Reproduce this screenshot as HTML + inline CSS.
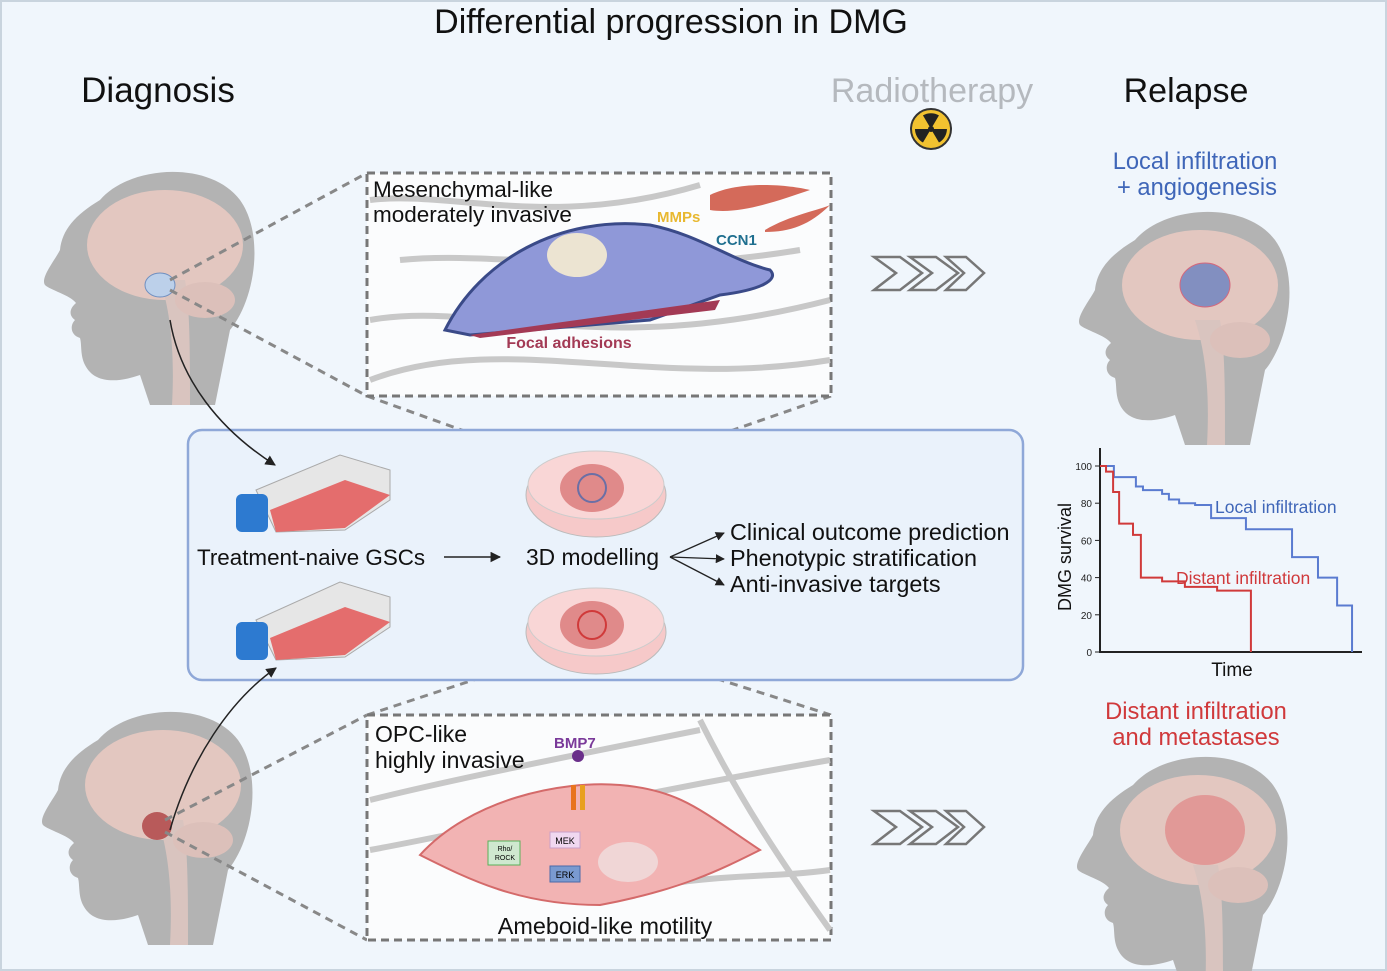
<!DOCTYPE html>
<html><head><meta charset="utf-8"><style>
html,body{margin:0;padding:0;background:#fff}
svg{display:block;font-family:"Liberation Sans",sans-serif}
</style></head><body>
<svg id="root" width="1387" height="971" viewBox="0 0 1387 971">
<defs>
<g id="head">
<path d="M60,40 C90,5 170,0 200,40 C225,75 215,140 190,170 L175,245 L110,245 L100,215 C80,222 55,225 45,205 C40,195 42,185 40,178 C30,175 30,165 35,160 C28,155 30,148 36,143 C30,135 10,130 5,125 C0,118 15,100 20,90 C22,70 35,55 60,40 Z" fill="#b3b3b3"/>
<ellipse cx="125" cy="85" rx="78" ry="55" fill="#e3c7c0"/>
<path d="M120,120 C130,150 135,190 132,245 L150,245 C150,190 150,150 145,120 Z" fill="#d9c4bf"/>
<ellipse cx="165" cy="140" rx="30" ry="18" fill="#dcc0ba"/>
</g>
<marker id="ah" viewBox="0 0 10 10" refX="9" refY="5" markerWidth="7" markerHeight="7" orient="auto"><path d="M0,0L10,5L0,10Z" fill="#222"/></marker>
</defs>
<rect x="1" y="1" width="1385" height="969" fill="#f0f6fc" stroke="#c9d4de" stroke-width="2"/>
<text x="671" y="33" font-size="34" text-anchor="middle" fill="#111">Differential progression in DMG</text>
<text x="158" y="102" font-size="35" text-anchor="middle" fill="#111">Diagnosis</text>
<text x="932" y="102" font-size="34" text-anchor="middle" fill="#b5b9be">Radiotherapy</text>
<text x="1186" y="102" font-size="34" text-anchor="middle" fill="#111">Relapse</text>
<g>
<circle cx="931" cy="129" r="20" fill="#f2c230" stroke="#333" stroke-width="2"/>
<circle cx="931" cy="129" r="3" fill="#222"/>
<path d="M931,129 L921,112 A20,20 0 0 1 941,112 Z M931,129 L951,129 A20,20 0 0 1 941,146 Z M931,129 L921,146 A20,20 0 0 1 911,129 Z" fill="#222" transform="scale(0.8) translate(232.7,32.2)"/>
</g>
<use href="#head" transform="translate(40,160)"/>
<ellipse cx="160" cy="285" rx="15" ry="12" fill="#bcd0ea" stroke="#6f8fc0"/>
<use href="#head" transform="translate(38,700)"/>
<ellipse cx="157" cy="826" rx="15" ry="14" fill="#b85a5a"/>
<use href="#head" transform="translate(1075,200)"/>
<ellipse cx="1205" cy="285" rx="25" ry="22" fill="#5a78c0" opacity="0.7" stroke="#d04060"/>
<use href="#head" transform="translate(1073,745)"/>
<ellipse cx="1205" cy="830" rx="40" ry="35" fill="#e08a8a" opacity="0.75"/>
<text x="1195" y="169" font-size="23.7" text-anchor="middle" fill="#3f66b8">Local infiltration</text>
<text x="1197" y="195" font-size="23.7" text-anchor="middle" fill="#3f66b8">+ angiogenesis</text>
<text x="1196" y="719" font-size="23.7" text-anchor="middle" fill="#d0393b">Distant infiltration</text>
<text x="1196" y="745" font-size="23.7" text-anchor="middle" fill="#d0393b">and metastases</text>
<g stroke="#888" stroke-width="3" stroke-dasharray="8,6" fill="none">
<line x1="170" y1="280" x2="367" y2="173"/><line x1="170" y1="290" x2="367" y2="396"/>
<line x1="367" y1="396" x2="595" y2="478"/><line x1="831" y1="396" x2="595" y2="478"/>
<line x1="165" y1="820" x2="367" y2="715"/><line x1="165" y1="832" x2="367" y2="940"/>
<line x1="367" y1="715" x2="595" y2="640"/><line x1="831" y1="715" x2="595" y2="640"/>
</g>
<g>
<rect x="367" y="173" width="464" height="223" fill="#fbfcfd" stroke="#777" stroke-width="3" stroke-dasharray="8,5"/>
<g stroke="#c8c8c8" stroke-width="6" fill="none">
<path d="M370,200 C450,190 550,230 700,185"/><path d="M370,320 C480,300 600,360 830,300"/><path d="M370,380 C500,330 650,390 830,360"/><path d="M400,260 C500,250 620,280 800,250"/>
</g>
<path d="M445,330 C480,260 560,215 650,225 C700,235 730,260 770,270 C780,280 760,290 720,295 L650,320 L470,335 Z" fill="#8f98d8" stroke="#3a4a88" stroke-width="3"/>
<path d="M470,335 L720,300 L715,310 L480,338 Z" fill="#a33a55"/>
<ellipse cx="577" cy="255" rx="30" ry="22" fill="#ece4d2"/>
<path d="M710,195 C740,180 790,185 810,190 C780,200 740,215 710,210 Z M765,230 C790,215 820,210 830,205 C810,225 790,232 765,232 Z" fill="#d46a5a"/>
<text x="373" y="197" font-size="22.5" fill="#111">Mesenchymal-like</text>
<text x="373" y="222" font-size="22.5" fill="#111">moderately invasive</text>
<text x="657" y="222" font-size="15" font-weight="bold" fill="#e8b830">MMPs</text>
<text x="716" y="245" font-size="15" font-weight="bold" fill="#1f6f8f">CCN1</text>
<text x="569" y="348" font-size="16" font-weight="bold" text-anchor="middle" fill="#a33a55">Focal adhesions</text>
</g>
<rect x="188" y="430" width="835" height="250" rx="14" fill="#eaf2fb" stroke="#8fa8d8" stroke-width="2.5"/>
<g>
<path d="M256,490 L340,455 L390,470 L390,500 L345,530 L276,532 Z" fill="#e6e6e6" stroke="#aaa"/>
<path d="M270,510 L345,480 L390,495 L345,528 L276,532 Z" fill="#e46d6d"/>
<rect x="236" y="494" width="32" height="38" rx="6" fill="#2d7ad0"/>
</g>
<g>
<path d="M256,620 L340,582 L390,597 L390,627 L345,657 L276,660 Z" fill="#e6e6e6" stroke="#aaa"/>
<path d="M270,638 L345,607 L390,622 L345,655 L276,660 Z" fill="#e46d6d"/>
<rect x="236" y="622" width="32" height="38" rx="6" fill="#2d7ad0"/>
</g>
<g>
<ellipse cx="596" cy="495" rx="70" ry="42" fill="#f6c9c9" stroke="#bbb"/>
<ellipse cx="596" cy="485" rx="68" ry="34" fill="#f9d6d6" stroke="#ccc"/>
<ellipse cx="592" cy="488" rx="32" ry="24" fill="#e08a8a"/><circle cx="592" cy="488" r="14" fill="none" stroke="#6b6fa5" stroke-width="2"/>
</g>
<g>
<ellipse cx="596" cy="632" rx="70" ry="42" fill="#f6c9c9" stroke="#bbb"/>
<ellipse cx="596" cy="622" rx="68" ry="34" fill="#f9d6d6" stroke="#ccc"/>
<ellipse cx="592" cy="625" rx="32" ry="24" fill="#e08a8a"/><circle cx="592" cy="625" r="14" fill="none" stroke="#d03a3a" stroke-width="2"/>
</g>
<text x="197" y="565" font-size="22.4" fill="#111">Treatment-naive GSCs</text>
<line x1="444" y1="557" x2="500" y2="557" stroke="#222" stroke-width="1.5" marker-end="url(#ah)"/>
<text x="526" y="565" font-size="22.8" fill="#111">3D modelling</text>
<g stroke="#222" stroke-width="1.3" marker-end="url(#ah)">
<line x1="670" y1="557" x2="724" y2="533"/><line x1="670" y1="557" x2="724" y2="559"/><line x1="670" y1="557" x2="724" y2="585"/>
</g>
<text x="730" y="540" font-size="23.4" fill="#111">Clinical outcome prediction</text>
<text x="730" y="566" font-size="23.4" fill="#111">Phenotypic stratification</text>
<text x="730" y="592" font-size="23.4" fill="#111">Anti-invasive targets</text>
<path d="M170,320 C180,380 220,430 275,465" stroke="#222" stroke-width="1.5" fill="none" marker-end="url(#ah)"/>
<path d="M170,830 C190,760 230,700 276,668" stroke="#222" stroke-width="1.5" fill="none" marker-end="url(#ah)"/>
<g>
<rect x="367" y="715" width="464" height="225" fill="#fbfcfd" stroke="#777" stroke-width="3" stroke-dasharray="8,5"/>
<g stroke="#c8c8c8" stroke-width="6" fill="none">
<path d="M370,800 C450,780 550,760 700,730"/><path d="M370,850 C480,830 600,800 830,760"/><path d="M600,900 C700,870 760,880 830,870"/><path d="M700,720 C740,800 780,860 830,930"/>
</g>
<path d="M420,855 C470,800 560,780 620,785 C680,790 700,810 760,850 C720,870 680,890 600,905 C520,905 470,880 420,855 Z" fill="#f2b3b3" stroke="#d46a6a" stroke-width="2"/>
<ellipse cx="628" cy="862" rx="30" ry="20" fill="#f0d6d6"/>
<rect x="488" y="841" width="32" height="24" fill="#cfe8cf" stroke="#5ab05a"/>
<rect x="550" y="832" width="30" height="16" fill="#f0d8f0" stroke="#c9a0c9"/>
<rect x="550" y="866" width="30" height="16" fill="#7a9ad0" stroke="#4b6aa8"/>
<text x="505" y="851" font-size="7" text-anchor="middle">Rho/</text><text x="505" y="860" font-size="7" text-anchor="middle">ROCK</text>
<text x="565" y="844" font-size="9" text-anchor="middle">MEK</text><text x="565" y="878" font-size="9" text-anchor="middle">ERK</text>
<rect x="571" y="785" width="5" height="25" fill="#e8741f"/><rect x="580" y="785" width="5" height="25" fill="#e8a020"/>
<circle cx="578" cy="756" r="6" fill="#6a2f8a"/>
<text x="375" y="742" font-size="23" fill="#111">OPC-like</text>
<text x="375" y="768" font-size="23" fill="#111">highly invasive</text>
<text x="554" y="748" font-size="15" font-weight="bold" fill="#7a3a9a">BMP7</text>
<text x="605" y="934" font-size="23.4" text-anchor="middle" fill="#111">Ameboid-like motility</text>
</g>
<g fill="none" stroke="#777" stroke-width="2.5">
<path d="M874,257 L900,257 L922,273 L900,290 L874,290 L896,273 Z M910,257 L936,257 L958,273 L936,290 L910,290 L932,273 Z M946,257 L966,257 L984,273 L966,290 L946,290 L964,273 Z"/>
<path d="M874,811 L900,811 L922,827 L900,844 L874,844 L896,827 Z M910,811 L936,811 L958,827 L936,844 L910,844 L932,827 Z M946,811 L966,811 L984,827 L966,844 L946,844 L964,827 Z"/>
</g>
<g id="km"></g>
</svg>
<script>
const yTicks=[0,20,40,60,80,100];
const localTimes=[0,5.3,13.7,16.4,23.7,26.3,30.2,36.3,42.4,55.7,73.3,83.2,90.5,96.2];
const localSurv=[100,94,89,87,85,82,80,79,72,66,51,40,25,0];
const distantTimes=[0,2.3,5,7.3,12.6,15.6,23.7,32.4,44.7,57.6];
const distantSurv=[100,97,86,69,63,40,38,35,33,0];
const X0=1100,X1=1362,Y0=652,Y1=466;
const xs=t=>X0+(X1-X0)*t/100, ys=v=>Y0-(Y0-Y1)*v/100;
const NS='http://www.w3.org/2000/svg',g=document.getElementById('km');
function mk(tag,attrs,txt){const e=document.createElementNS(NS,tag);for(const k in attrs)e.setAttribute(k,attrs[k]);if(txt!=null)e.textContent=txt;g.appendChild(e);return e;}
let e=mk('path',{d:`M${X0},448 L${X0},${Y0} L${X1},${Y0}`,stroke:'#222','stroke-width':2,fill:'none'});


yTicks.forEach(v=>{
 let t=mk('line',{x1:X0-5,x2:X0,y1:ys(v),y2:ys(v),stroke:'#222'});
 
 
 let l=mk('text',{x:X0-8,y:ys(v)+4,'font-size':10,'text-anchor':'end',fill:'#222'},v);
 
 
});
function step(ts,vs){let d=`M${xs(ts[0])},${ys(vs[0])}`;for(let i=1;i<ts.length;i++){d+=` L${xs(ts[i])},${ys(vs[i-1])} L${xs(ts[i])},${ys(vs[i])}`;}return d;}
let lb=mk('path',{d:step(localTimes,localSurv),stroke:'#5a7bd0','stroke-width':2,fill:'none'});


let lr=mk('path',{d:step(distantTimes,distantSurv),stroke:'#d03a3a','stroke-width':2,fill:'none'});


let a=mk('text',{x:1215,y:513,'font-size':17.5,fill:'#3f66b8'},'Local infiltration');


let b=mk('text',{x:1176,y:584,'font-size':17.5,fill:'#d0393b'},'Distant infiltration');


let xt=mk('text',{x:1232,y:676,'font-size':19,'text-anchor':'middle',fill:'#111'},'Time');


let yt=mk('text',{x:0,y:0,'font-size':18,'text-anchor':'middle',fill:'#111',transform:`translate(1071,557) rotate(-90)`},'DMG survival');


</script>
</body></html>
